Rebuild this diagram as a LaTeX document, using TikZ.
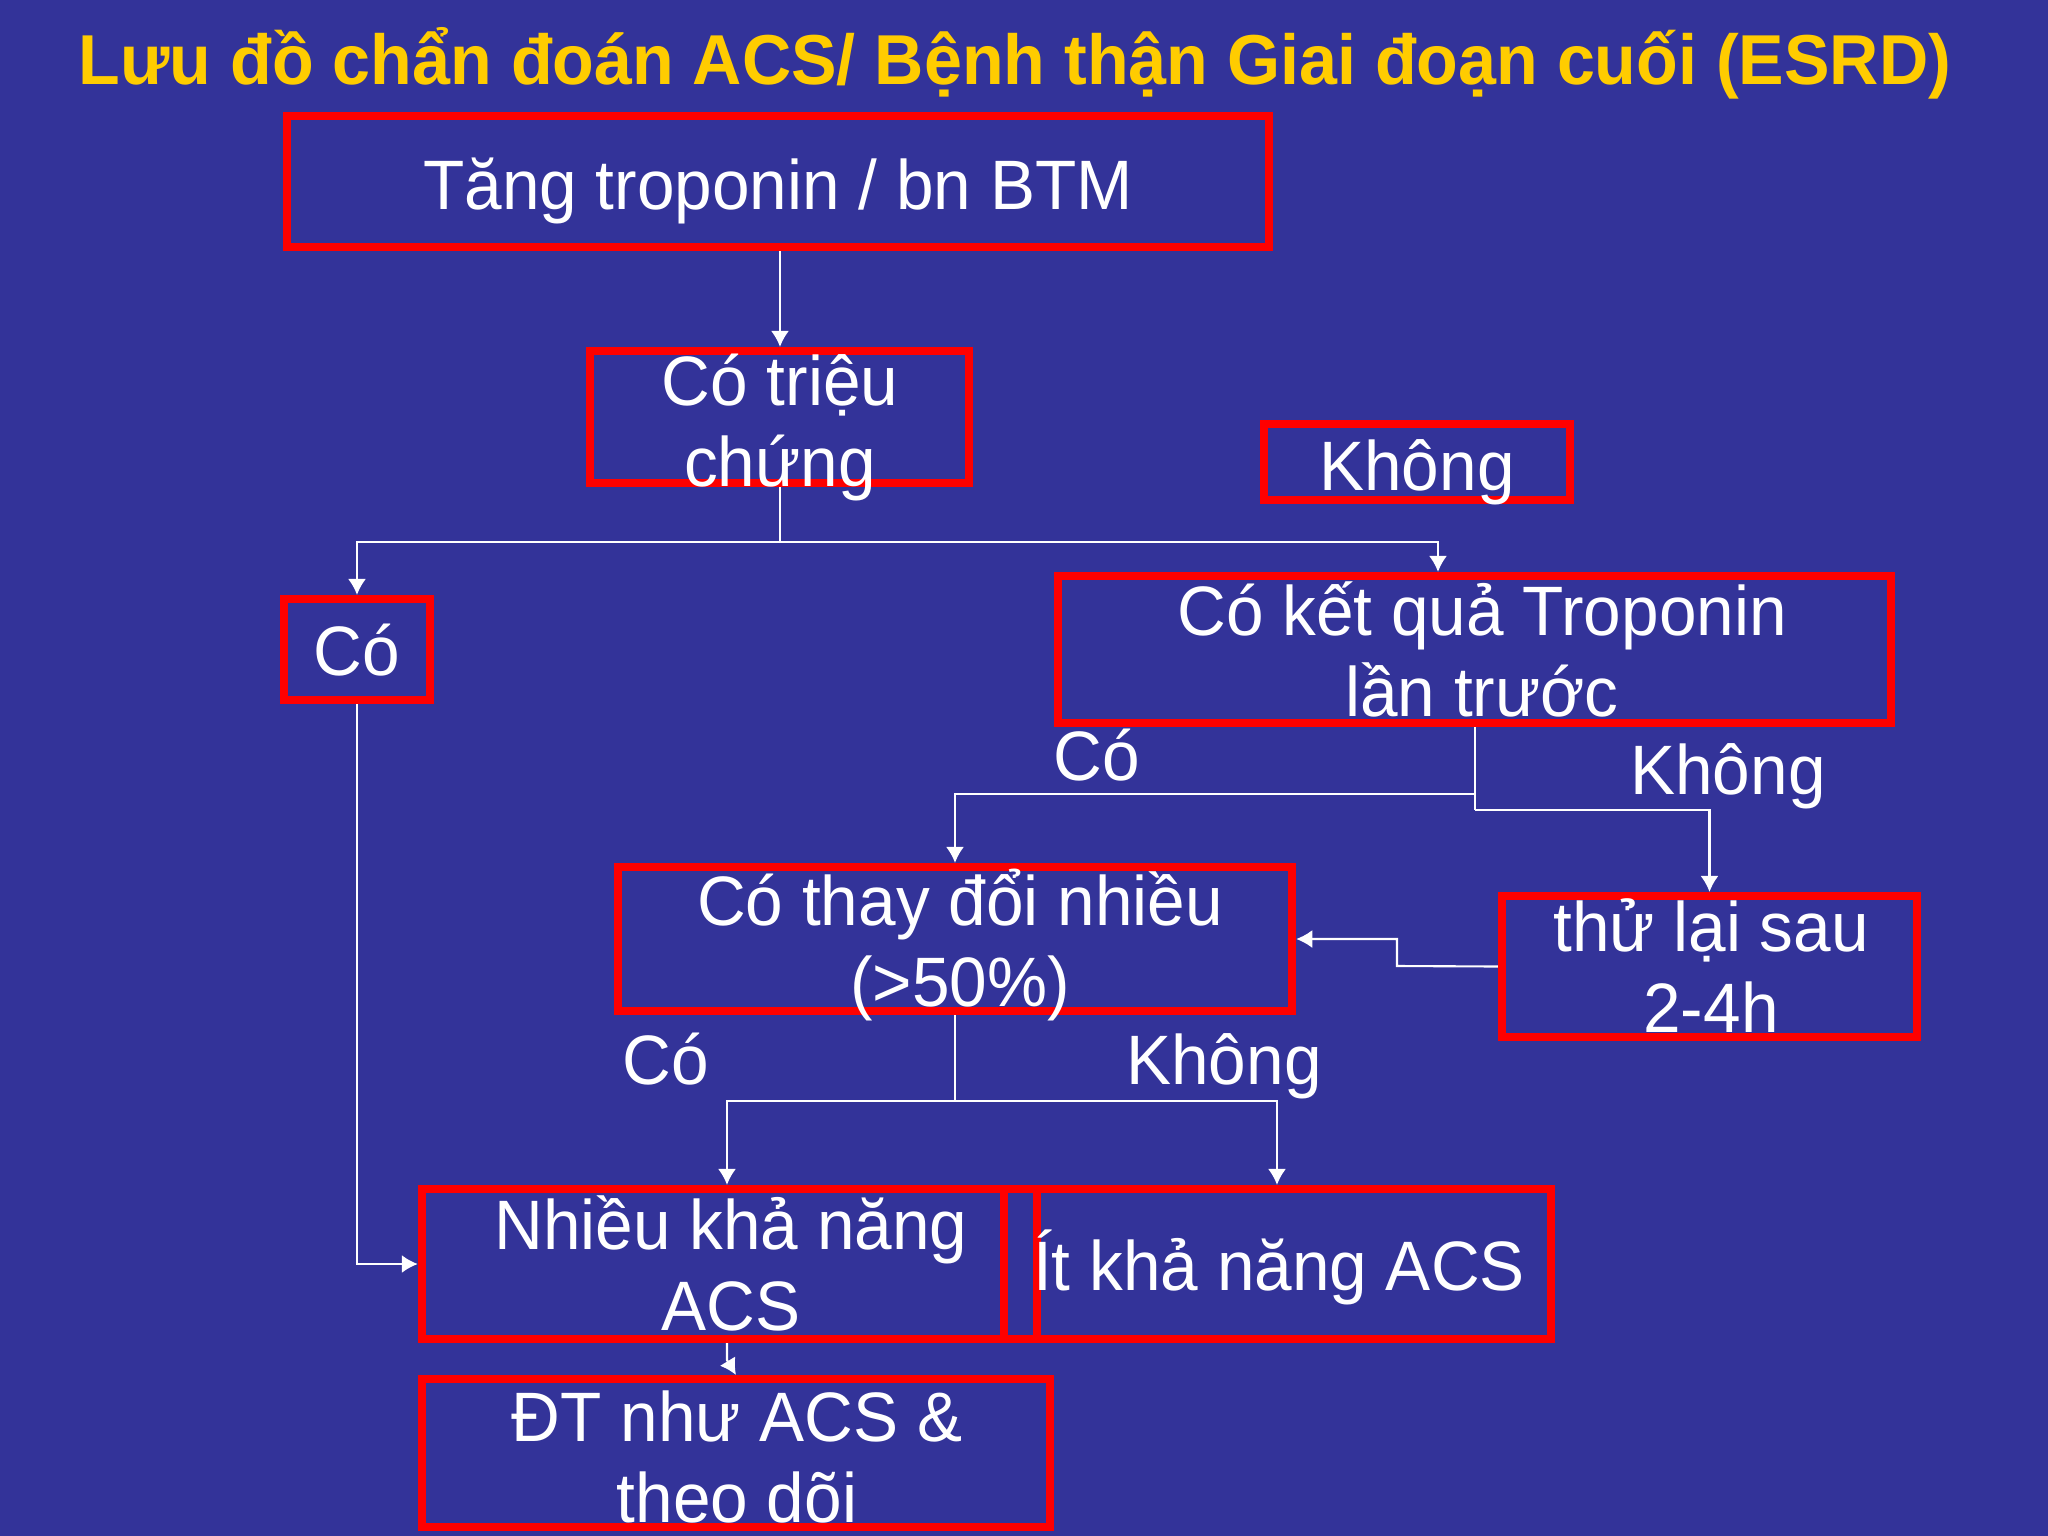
\documentclass[tikz,border=0pt]{standalone}
\usepackage{fontspec}
\setmainfont{Liberation Sans}[FakeStretch=0.965]
\usetikzlibrary{arrows.meta}
\definecolor{slideblue}{RGB}{51,51,153}
\definecolor{boxred}{RGB}{255,0,0}
\definecolor{titlegold}{RGB}{255,204,0}
\tikzset{
    box/.style={draw=boxred, line width=2.3pt, rectangle, inner sep=0pt},
    txt/.style={text=white, align=center, inner sep=0pt, anchor=base,
        font=\fontsize{19.9}{22.8}\selectfont},
    link/.style={draw=white, line width=0.6pt},
    arrowlink/.style={link, -{Latex[length=1.6mm,width=1.8mm]}},
}

\begin{document}
\begin{tikzpicture}[x=0.01cm, y=-0.01cm]
\fill[slideblue] (0,0) rectangle (2048,1536);
\useasboundingbox (0,0) rectangle (2048,1536);
\node[txt, text=titlegold, font=\bfseries\fontsize{20.1}{22.8}\selectfont] (title) at (1015,84) {Lưu đồ chẩn đoán ACS/ Bệnh thận Giai đoạn cuối (ESRD)};
% boxes
\node[box, minimum width=9.82cm, minimum height=1.31cm] (tang) at (778,181.5) {};
\node[box, minimum width=3.79cm, minimum height=1.32cm] (trieu) at (779.5,417) {};
\node[box, minimum width=3.06cm, minimum height=0.76cm] (khong) at (1417,462) {};
\node[box, minimum width=1.46cm, minimum height=1.01cm] (co) at (357,649.5) {};
\node[box, minimum width=8.33cm, minimum height=1.47cm] (ketqua) at (1474.5,649.5) {};
\node[box, minimum width=6.74cm, minimum height=1.44cm] (thaydoi) at (955,939) {};
\node[box, minimum width=4.15cm, minimum height=1.41cm] (thulai) at (1709.5,966.5) {};
\node[box, minimum width=5.82cm, minimum height=1.50cm] (nhieu) at (713,1264) {};
\node[box, minimum width=5.47cm, minimum height=1.50cm] (it) at (1277.5,1264) {};
\draw[draw=boxred, line width=2.3pt] (1037,1189) -- (1037,1339);
\node[box, minimum width=6.28cm, minimum height=1.48cm] (dt) at (736,1453) {};
% texts (multi-line: base = last line)
\node[txt] (tangtxt) at (778,209) {Tăng troponin / bn BTM};
\node[txt] (trieutxt) at (780,486) {Có triệu\\chứng};
\node[txt] (khongtxt) at (1417,490) {Không};
\node[txt] (cotxt) at (357,675) {Có};
\node[txt] (ketquatxt) at (1482,716) {Có kết quả Troponin\\lần trước};
\node[txt] (lblco1) at (1097,780) {Có};
\node[txt] (lblkhong1) at (1728,794) {Không};
\node[txt] (thaydoitxt) at (960,1006) {Có thay đổi nhiều\\(>50\%)};
\node[txt] (thulaitxt) at (1711,1032) {thử lại sau\\2-4h};
\node[txt] (lblco2) at (666,1084) {Có};
\node[txt] (lblkhong2) at (1224,1084) {Không};
\node[txt] (nhieutxt) at (731,1330) {Nhiều khả năng\\ACS};
\node[txt] (ittxt) at (1279,1290) {Ít khả năng ACS};
\node[txt] (dttxt) at (737,1522) {ĐT như ACS \&\\theo dõi};
% connectors
\coordinate (j1) at (780,542);
\coordinate (j2) at (1438,542);
\coordinate (j3) at (1475,794);
\coordinate (j4) at (1475,810);
\coordinate (j5) at (1397,966);
\coordinate (j6) at (955,1101);
\coordinate (j7) at (727,1101);
\coordinate (j8) at (1277,1101);
\draw[arrowlink] (tang.south -| j1) -- (trieu.north -| j1);
\draw[link] (trieu.south -| j1) -- (j1);
\draw[arrowlink] (j1) -| (co.north);
\draw[arrowlink] (j1) -- (j2) -- (j2 |- ketqua.north);
\draw[link] (ketqua.south -| j3) -- (j4);
\draw[arrowlink] (j3) -| (thaydoi.north);
\draw[arrowlink] (j4) -| (thulai.north);
\draw[arrowlink] (thulai.west) -- (j5) |- (thaydoi.east);
\draw[link] (thaydoi.south) -- (j6);
\draw[arrowlink] (j6) -- (j7) -- (j7 |- nhieu.north);
\draw[arrowlink] (j6) -- (j8) -- (j8 |- it.north);
\draw[arrowlink] (co.south) |- (nhieu.west);
\draw[arrowlink] (nhieu.south -| j7) -- ++(0,17) -- (dt.north);
\end{tikzpicture}
\end{document}
